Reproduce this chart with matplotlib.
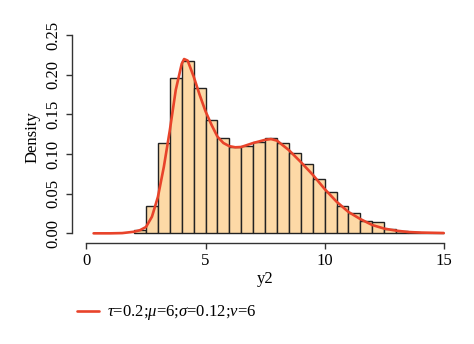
import numpy as np
import matplotlib
matplotlib.use("Agg")
import matplotlib.pyplot as plt

plt.rcParams['font.family'] = ['Liberation Serif', 'DejaVu Serif']
plt.rcParams['mathtext.fontset'] = 'custom'
plt.rcParams['mathtext.rm'] = 'Liberation Serif'
plt.rcParams['mathtext.it'] = 'Liberation Serif:italic'

# Histogram of y2 (density scale), bins of width 0.5
bin_edges = [2.0, 2.5, 3.0, 3.5, 4.0, 4.5, 5.0, 5.5, 6.0, 6.5, 7.0, 7.5, 8.0,
             8.5, 9.0, 9.5, 10.0, 10.5, 11.0, 11.5, 12.0, 12.5, 13.0, 13.5,
             14.0, 14.5, 15.0]
density = [0.004, 0.035, 0.114, 0.196, 0.217, 0.183, 0.143, 0.120, 0.109,
           0.110, 0.115, 0.120, 0.114, 0.102, 0.087, 0.069, 0.052, 0.035,
           0.026, 0.016, 0.014, 0.005, 0.0025, 0.0013, 0.001, 0.001]

# Fitted density curve
curve_x = [0.3, 1.0, 1.5, 2.0, 2.25, 2.5, 2.75, 3.0, 3.25, 3.5, 3.75, 4.0,
           4.1, 4.25, 4.5, 4.75, 5.0, 5.25, 5.5, 5.75, 6.0, 6.25, 6.5, 7.0,
           7.5, 7.75, 8.0, 8.5, 9.0, 9.5, 10.0, 10.5, 11.0, 11.5, 12.0,
           12.5, 13.0, 13.5, 14.0, 15.0]
curve_y = [0.0, 0.0, 0.0003, 0.002, 0.004, 0.008, 0.021, 0.046, 0.084, 0.130,
           0.181, 0.214, 0.220, 0.218, 0.198, 0.175, 0.154, 0.137, 0.122,
           0.114, 0.110, 0.1086, 0.109, 0.114, 0.118, 0.119, 0.117, 0.105,
           0.090, 0.074, 0.056, 0.040, 0.027, 0.018, 0.0105, 0.006, 0.0034,
           0.0017, 0.001, 0.0004]

xticks = [0, 5, 10, 15]
yticks = [0.00, 0.05, 0.10, 0.15, 0.20, 0.25]
legend_label = r'$\tau$=0.2;$\mu$=6;$\sigma$=0.12;$\nu$=6'

W, H = 474, 344
fig = plt.figure(figsize=(W / 100, H / 100), dpi=100)
ax = fig.add_axes([72 / W, 101 / H, (458 - 72) / W, (243 - 31.3) / H])

edges = np.array(bin_edges)
ax.bar(edges[:-1], density, width=np.diff(edges), align='edge',
       color='#FDD9A6', edgecolor='#222222', linewidth=1.0)
line, = ax.plot(curve_x, curve_y, color='#E8432A', linewidth=1.9,
                solid_joinstyle='round', solid_capstyle='round')

ax.set_xlim(-0.607, 15.6)
ax.set_ylim(-0.0122, 0.255)

for s in ['top', 'right']:
    ax.spines[s].set_visible(False)
ax.spines['left'].set_bounds(0, 0.25)
ax.spines['bottom'].set_bounds(0, 15)
for s in ['left', 'bottom']:
    ax.spines[s].set_color('#333333')
    ax.spines[s].set_linewidth(1.0)

ax.set_xticks(xticks)
ax.set_xticklabels([str(t) for t in xticks])
ax.set_yticks(yticks)
ax.set_yticklabels(['%.2f' % t for t in yticks], rotation=90, va='center')
ax.tick_params(direction='out', length=4.5, width=1.0, color='#333333',
               labelsize=12, pad=3)

ax.set_xlabel('y2', fontsize=12, labelpad=1)
ax.set_ylabel('Density', fontsize=12, labelpad=4)

fig.legend([line], [legend_label], loc='center left',
           bbox_to_anchor=(77 / W, 1 - 313 / H), frameon=False,
           fontsize=12, handlelength=1.3, handletextpad=0.5,
           borderaxespad=0, borderpad=0)

fig.savefig('out.png', dpi=100)
